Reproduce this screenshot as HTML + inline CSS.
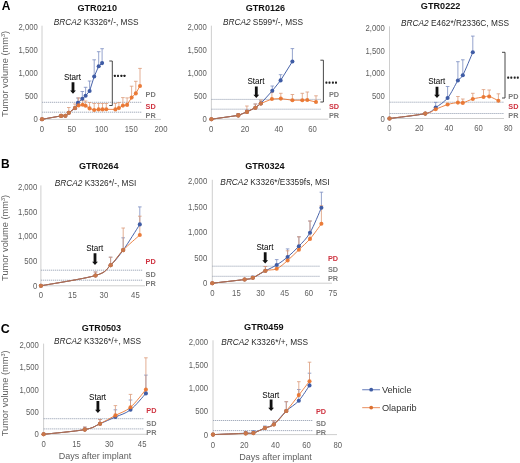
<!DOCTYPE html>
<html><head><meta charset="utf-8"><style>
html,body{margin:0;padding:0;background:#fff;}
svg{display:block;filter:blur(0.4px);}
text{font-family:"Liberation Sans",sans-serif;}
</style></head><body>
<svg width="520" height="463" viewBox="0 0 520 463" font-family="Liberation Sans, sans-serif">
<rect width="520" height="463" fill="#fff"/>
<line x1="42.00" y1="25.70" x2="42.00" y2="119.40" stroke="#c8c8c8" stroke-width="0.9" />
<line x1="42.00" y1="119.40" x2="161.00" y2="119.40" stroke="#c8c8c8" stroke-width="0.9" />
<text transform="translate(37.80,122.44) scale(0.91,1)" font-size="8.5" text-anchor="end" font-weight="normal" fill="#5e5e5e" >0</text>
<text transform="translate(37.80,99.39) scale(0.91,1)" font-size="8.5" text-anchor="end" font-weight="normal" fill="#5e5e5e" >500</text>
<text transform="translate(37.80,76.34) scale(0.91,1)" font-size="8.5" text-anchor="end" font-weight="normal" fill="#5e5e5e" >1,000</text>
<text transform="translate(37.80,53.29) scale(0.91,1)" font-size="8.5" text-anchor="end" font-weight="normal" fill="#5e5e5e" >1,500</text>
<text transform="translate(37.80,30.24) scale(0.91,1)" font-size="8.5" text-anchor="end" font-weight="normal" fill="#5e5e5e" >2,000</text>
<text transform="translate(42.00,132.24) scale(0.91,1)" font-size="8.5" text-anchor="middle" font-weight="normal" fill="#5e5e5e" >0</text>
<text transform="translate(71.75,132.24) scale(0.91,1)" font-size="8.5" text-anchor="middle" font-weight="normal" fill="#5e5e5e" >50</text>
<text transform="translate(101.50,132.24) scale(0.91,1)" font-size="8.5" text-anchor="middle" font-weight="normal" fill="#5e5e5e" >100</text>
<text transform="translate(131.25,132.24) scale(0.91,1)" font-size="8.5" text-anchor="middle" font-weight="normal" fill="#5e5e5e" >150</text>
<text transform="translate(161.00,132.24) scale(0.91,1)" font-size="8.5" text-anchor="middle" font-weight="normal" fill="#5e5e5e" >200</text>
<line x1="42.00" y1="102.30" x2="142.00" y2="102.30" stroke="#8f99ad" stroke-width="0.8" stroke-dasharray="1.3,0.7"/>
<line x1="42.00" y1="112.20" x2="142.00" y2="112.20" stroke="#8f99ad" stroke-width="0.8" stroke-dasharray="1.3,0.7"/>
<text x="145.60" y="96.61" font-size="7.3" text-anchor="start" font-weight="bold" fill="#7a7a7a" >PD</text>
<text x="145.60" y="108.81" font-size="7.3" text-anchor="start" font-weight="bold" fill="#cf3340" >SD</text>
<text x="145.60" y="117.91" font-size="7.3" text-anchor="start" font-weight="bold" fill="#7a7a7a" >PR</text>
<text transform="translate(97.20,11.34) scale(0.95,1)" font-size="9.6" text-anchor="middle" font-weight="bold" fill="#111" >GTR0210</text>
<text x="96.10" y="24.57" font-size="8.3" text-anchor="middle" fill="#2a2a2a"><tspan font-style="italic">BRCA2</tspan> K3326*/-, MSS</text>
<text transform="translate(72.50,80.08) scale(0.94,1)" font-size="8.6" text-anchor="middle" font-weight="normal" fill="#000" >Start</text>
<path d="M71.60,82.20 h2.8 v8.40 h1.5 l-2.9,3.2 l-2.9,-3.2 h1.5 z" fill="#111"/>
<path d="M109.30,61.00 H112.30 V105.50 H109.30" fill="none" stroke="#333" stroke-width="0.9"/>
<rect x="113.90" y="74.70" width="2.0" height="2.2" rx="0.6" fill="#222"/>
<rect x="117.00" y="74.70" width="2.0" height="2.2" rx="0.6" fill="#222"/>
<rect x="120.40" y="74.70" width="2.0" height="2.2" rx="0.6" fill="#222"/>
<rect x="123.50" y="74.70" width="2.0" height="2.2" rx="0.6" fill="#222"/>
<line x1="77.90" y1="102.70" x2="77.90" y2="98.00" stroke="#7b8dc0" stroke-width="0.8" />
<line x1="76.10" y1="98.00" x2="79.70" y2="98.00" stroke="#7b8dc0" stroke-width="0.8" />
<line x1="82.30" y1="98.80" x2="82.30" y2="91.50" stroke="#7b8dc0" stroke-width="0.8" />
<line x1="80.50" y1="91.50" x2="84.10" y2="91.50" stroke="#7b8dc0" stroke-width="0.8" />
<line x1="85.60" y1="95.80" x2="85.60" y2="87.30" stroke="#7b8dc0" stroke-width="0.8" />
<line x1="83.80" y1="87.30" x2="87.40" y2="87.30" stroke="#7b8dc0" stroke-width="0.8" />
<line x1="89.60" y1="91.00" x2="89.60" y2="81.00" stroke="#7b8dc0" stroke-width="0.8" />
<line x1="87.80" y1="81.00" x2="91.40" y2="81.00" stroke="#7b8dc0" stroke-width="0.8" />
<line x1="94.20" y1="76.50" x2="94.20" y2="59.80" stroke="#7b8dc0" stroke-width="0.8" />
<line x1="92.40" y1="59.80" x2="96.00" y2="59.80" stroke="#7b8dc0" stroke-width="0.8" />
<line x1="98.70" y1="66.20" x2="98.70" y2="51.70" stroke="#7b8dc0" stroke-width="0.8" />
<line x1="96.90" y1="51.70" x2="100.50" y2="51.70" stroke="#7b8dc0" stroke-width="0.8" />
<line x1="102.10" y1="63.10" x2="102.10" y2="48.70" stroke="#7b8dc0" stroke-width="0.8" />
<line x1="100.30" y1="48.70" x2="103.90" y2="48.70" stroke="#7b8dc0" stroke-width="0.8" />
<line x1="68.80" y1="112.80" x2="68.80" y2="107.50" stroke="#dc9a78" stroke-width="0.8" />
<line x1="67.00" y1="107.50" x2="70.60" y2="107.50" stroke="#dc9a78" stroke-width="0.8" />
<line x1="75.00" y1="108.00" x2="75.00" y2="104.00" stroke="#dc9a78" stroke-width="0.8" />
<line x1="73.20" y1="104.00" x2="76.80" y2="104.00" stroke="#dc9a78" stroke-width="0.8" />
<line x1="78.60" y1="105.40" x2="78.60" y2="97.90" stroke="#dc9a78" stroke-width="0.8" />
<line x1="76.80" y1="97.90" x2="80.40" y2="97.90" stroke="#dc9a78" stroke-width="0.8" />
<line x1="82.70" y1="104.80" x2="82.70" y2="100.00" stroke="#dc9a78" stroke-width="0.8" />
<line x1="80.90" y1="100.00" x2="84.50" y2="100.00" stroke="#dc9a78" stroke-width="0.8" />
<line x1="85.60" y1="105.80" x2="85.60" y2="101.00" stroke="#dc9a78" stroke-width="0.8" />
<line x1="83.80" y1="101.00" x2="87.40" y2="101.00" stroke="#dc9a78" stroke-width="0.8" />
<line x1="89.60" y1="108.40" x2="89.60" y2="102.50" stroke="#dc9a78" stroke-width="0.8" />
<line x1="87.80" y1="102.50" x2="91.40" y2="102.50" stroke="#dc9a78" stroke-width="0.8" />
<line x1="94.20" y1="110.00" x2="94.20" y2="103.50" stroke="#dc9a78" stroke-width="0.8" />
<line x1="92.40" y1="103.50" x2="96.00" y2="103.50" stroke="#dc9a78" stroke-width="0.8" />
<line x1="98.60" y1="109.40" x2="98.60" y2="103.50" stroke="#dc9a78" stroke-width="0.8" />
<line x1="96.80" y1="103.50" x2="100.40" y2="103.50" stroke="#dc9a78" stroke-width="0.8" />
<line x1="102.50" y1="109.40" x2="102.50" y2="103.50" stroke="#dc9a78" stroke-width="0.8" />
<line x1="100.70" y1="103.50" x2="104.30" y2="103.50" stroke="#dc9a78" stroke-width="0.8" />
<line x1="106.30" y1="109.30" x2="106.30" y2="103.50" stroke="#dc9a78" stroke-width="0.8" />
<line x1="104.50" y1="103.50" x2="108.10" y2="103.50" stroke="#dc9a78" stroke-width="0.8" />
<line x1="115.40" y1="109.40" x2="115.40" y2="103.50" stroke="#dc9a78" stroke-width="0.8" />
<line x1="113.60" y1="103.50" x2="117.20" y2="103.50" stroke="#dc9a78" stroke-width="0.8" />
<line x1="118.90" y1="108.10" x2="118.90" y2="102.50" stroke="#dc9a78" stroke-width="0.8" />
<line x1="117.10" y1="102.50" x2="120.70" y2="102.50" stroke="#dc9a78" stroke-width="0.8" />
<line x1="122.90" y1="105.60" x2="122.90" y2="97.60" stroke="#dc9a78" stroke-width="0.8" />
<line x1="121.10" y1="97.60" x2="124.70" y2="97.60" stroke="#dc9a78" stroke-width="0.8" />
<line x1="127.10" y1="104.90" x2="127.10" y2="97.90" stroke="#dc9a78" stroke-width="0.8" />
<line x1="125.30" y1="97.90" x2="128.90" y2="97.90" stroke="#dc9a78" stroke-width="0.8" />
<line x1="131.60" y1="97.60" x2="131.60" y2="86.20" stroke="#dc9a78" stroke-width="0.8" />
<line x1="129.80" y1="86.20" x2="133.40" y2="86.20" stroke="#dc9a78" stroke-width="0.8" />
<line x1="135.80" y1="93.40" x2="135.80" y2="81.30" stroke="#dc9a78" stroke-width="0.8" />
<line x1="134.00" y1="81.30" x2="137.60" y2="81.30" stroke="#dc9a78" stroke-width="0.8" />
<line x1="140.00" y1="86.00" x2="140.00" y2="68.40" stroke="#dc9a78" stroke-width="0.8" />
<line x1="138.20" y1="68.40" x2="141.80" y2="68.40" stroke="#dc9a78" stroke-width="0.8" />
<path d="M42.00,119.30 L61.10,115.90 L65.40,115.70 L68.80,112.80 L75.00,108.20 L77.90,102.70 L82.30,98.80 L85.60,95.80 L89.60,91.00 L94.20,76.50 L98.70,66.20 L102.10,63.10" fill="none" stroke="#3f5ca5" stroke-width="0.95"/>
<circle cx="42.00" cy="119.30" r="2.05" fill="#3f5ca5"/>
<circle cx="61.10" cy="115.90" r="2.05" fill="#3f5ca5"/>
<circle cx="65.40" cy="115.70" r="2.05" fill="#3f5ca5"/>
<circle cx="68.80" cy="112.80" r="2.05" fill="#3f5ca5"/>
<circle cx="75.00" cy="108.20" r="2.05" fill="#3f5ca5"/>
<circle cx="77.90" cy="102.70" r="2.05" fill="#3f5ca5"/>
<circle cx="82.30" cy="98.80" r="2.05" fill="#3f5ca5"/>
<circle cx="85.60" cy="95.80" r="2.05" fill="#3f5ca5"/>
<circle cx="89.60" cy="91.00" r="2.05" fill="#3f5ca5"/>
<circle cx="94.20" cy="76.50" r="2.05" fill="#3f5ca5"/>
<circle cx="98.70" cy="66.20" r="2.05" fill="#3f5ca5"/>
<circle cx="102.10" cy="63.10" r="2.05" fill="#3f5ca5"/>
<path d="M42.00,119.30 L61.10,115.90 L65.40,115.70 L68.80,112.80 L75.00,108.00 L78.60,105.40 L82.70,104.80 L85.60,105.80 L89.60,108.40 L94.20,110.00 L98.60,109.40 L102.50,109.40 L106.30,109.30 L115.40,109.40 L118.90,108.10 L122.90,105.60 L127.10,104.90 L131.60,97.60 L135.80,93.40 L140.00,86.00" fill="none" stroke="#e9742e" stroke-width="0.95" opacity="0.92"/>
<circle cx="42.00" cy="119.30" r="2.05" fill="#e9742e" opacity="0.92"/>
<circle cx="61.10" cy="115.90" r="2.05" fill="#e9742e" opacity="0.92"/>
<circle cx="65.40" cy="115.70" r="2.05" fill="#e9742e" opacity="0.92"/>
<circle cx="68.80" cy="112.80" r="2.05" fill="#e9742e" opacity="0.92"/>
<circle cx="75.00" cy="108.00" r="2.05" fill="#e9742e" opacity="0.92"/>
<circle cx="78.60" cy="105.40" r="2.05" fill="#e9742e" opacity="0.92"/>
<circle cx="82.70" cy="104.80" r="2.05" fill="#e9742e" opacity="0.92"/>
<circle cx="85.60" cy="105.80" r="2.05" fill="#e9742e" opacity="0.92"/>
<circle cx="89.60" cy="108.40" r="2.05" fill="#e9742e" opacity="0.92"/>
<circle cx="94.20" cy="110.00" r="2.05" fill="#e9742e" opacity="0.92"/>
<circle cx="98.60" cy="109.40" r="2.05" fill="#e9742e" opacity="0.92"/>
<circle cx="102.50" cy="109.40" r="2.05" fill="#e9742e" opacity="0.92"/>
<circle cx="106.30" cy="109.30" r="2.05" fill="#e9742e" opacity="0.92"/>
<circle cx="115.40" cy="109.40" r="2.05" fill="#e9742e" opacity="0.92"/>
<circle cx="118.90" cy="108.10" r="2.05" fill="#e9742e" opacity="0.92"/>
<circle cx="122.90" cy="105.60" r="2.05" fill="#e9742e" opacity="0.92"/>
<circle cx="127.10" cy="104.90" r="2.05" fill="#e9742e" opacity="0.92"/>
<circle cx="131.60" cy="97.60" r="2.05" fill="#e9742e" opacity="0.92"/>
<circle cx="135.80" cy="93.40" r="2.05" fill="#e9742e" opacity="0.92"/>
<circle cx="140.00" cy="86.00" r="2.05" fill="#e9742e" opacity="0.92"/>
<path d="M42.00,119.30 L61.10,115.90 L65.40,115.70 L68.80,112.80 L75.00,108.00" fill="none" stroke="#a26d58" stroke-width="0.95"/>
<circle cx="42.00" cy="119.30" r="2.05" fill="#c9774a"/>
<circle cx="61.10" cy="115.90" r="2.05" fill="#c9774a"/>
<circle cx="65.40" cy="115.70" r="2.05" fill="#c9774a"/>
<circle cx="68.80" cy="112.80" r="2.05" fill="#c9774a"/>
<circle cx="75.00" cy="108.00" r="2.05" fill="#c9774a"/>
<line x1="211.40" y1="25.70" x2="211.40" y2="119.20" stroke="#c8c8c8" stroke-width="0.9" />
<line x1="211.40" y1="119.20" x2="328.40" y2="119.20" stroke="#c8c8c8" stroke-width="0.9" />
<text transform="translate(206.90,122.24) scale(0.91,1)" font-size="8.5" text-anchor="end" font-weight="normal" fill="#5e5e5e" >0</text>
<text transform="translate(206.90,99.24) scale(0.91,1)" font-size="8.5" text-anchor="end" font-weight="normal" fill="#5e5e5e" >500</text>
<text transform="translate(206.90,76.24) scale(0.91,1)" font-size="8.5" text-anchor="end" font-weight="normal" fill="#5e5e5e" >1,000</text>
<text transform="translate(206.90,53.24) scale(0.91,1)" font-size="8.5" text-anchor="end" font-weight="normal" fill="#5e5e5e" >1,500</text>
<text transform="translate(206.90,30.24) scale(0.91,1)" font-size="8.5" text-anchor="end" font-weight="normal" fill="#5e5e5e" >2,000</text>
<text transform="translate(211.20,132.44) scale(0.91,1)" font-size="8.5" text-anchor="middle" font-weight="normal" fill="#5e5e5e" >0</text>
<text transform="translate(245.00,132.44) scale(0.91,1)" font-size="8.5" text-anchor="middle" font-weight="normal" fill="#5e5e5e" >20</text>
<text transform="translate(278.80,132.44) scale(0.91,1)" font-size="8.5" text-anchor="middle" font-weight="normal" fill="#5e5e5e" >40</text>
<text transform="translate(312.60,132.44) scale(0.91,1)" font-size="8.5" text-anchor="middle" font-weight="normal" fill="#5e5e5e" >60</text>
<line x1="211.40" y1="99.40" x2="321.00" y2="99.40" stroke="#8f99ad" stroke-width="0.8" stroke-dasharray="1.3,0.7"/>
<line x1="211.40" y1="109.20" x2="321.00" y2="109.20" stroke="#8f99ad" stroke-width="0.8" stroke-dasharray="1.3,0.7"/>
<text x="328.90" y="96.61" font-size="7.3" text-anchor="start" font-weight="bold" fill="#7a7a7a" >PD</text>
<text x="328.90" y="109.11" font-size="7.3" text-anchor="start" font-weight="bold" fill="#cf3340" >SD</text>
<text x="328.90" y="117.81" font-size="7.3" text-anchor="start" font-weight="bold" fill="#7a7a7a" >PR</text>
<text transform="translate(265.40,10.64) scale(0.95,1)" font-size="9.6" text-anchor="middle" font-weight="bold" fill="#111" >GTR0126</text>
<text x="263.00" y="24.77" font-size="8.3" text-anchor="middle" fill="#2a2a2a"><tspan font-style="italic">BRCA2</tspan> S599*/-, MSS</text>
<text transform="translate(256.00,84.28) scale(0.94,1)" font-size="8.6" text-anchor="middle" font-weight="normal" fill="#000" >Start</text>
<path d="M254.90,86.50 h2.8 v8.30 h1.5 l-2.9,3.2 l-2.9,-3.2 h1.5 z" fill="#111"/>
<path d="M320.40,60.20 H323.40 V102.00 H320.40" fill="none" stroke="#333" stroke-width="0.9"/>
<rect x="325.40" y="81.50" width="2.0" height="2.2" rx="0.6" fill="#222"/>
<rect x="328.50" y="81.50" width="2.0" height="2.2" rx="0.6" fill="#222"/>
<rect x="331.90" y="81.50" width="2.0" height="2.2" rx="0.6" fill="#222"/>
<rect x="335.00" y="81.50" width="2.0" height="2.2" rx="0.6" fill="#222"/>
<line x1="238.30" y1="115.40" x2="238.30" y2="113.50" stroke="#7b8dc0" stroke-width="0.8" />
<line x1="236.50" y1="113.50" x2="240.10" y2="113.50" stroke="#7b8dc0" stroke-width="0.8" />
<line x1="246.90" y1="111.90" x2="246.90" y2="110.00" stroke="#7b8dc0" stroke-width="0.8" />
<line x1="245.10" y1="110.00" x2="248.70" y2="110.00" stroke="#7b8dc0" stroke-width="0.8" />
<line x1="255.40" y1="107.70" x2="255.40" y2="104.00" stroke="#7b8dc0" stroke-width="0.8" />
<line x1="253.60" y1="104.00" x2="257.20" y2="104.00" stroke="#7b8dc0" stroke-width="0.8" />
<line x1="260.80" y1="103.50" x2="260.80" y2="101.00" stroke="#7b8dc0" stroke-width="0.8" />
<line x1="259.00" y1="101.00" x2="262.60" y2="101.00" stroke="#7b8dc0" stroke-width="0.8" />
<line x1="272.30" y1="90.80" x2="272.30" y2="86.00" stroke="#7b8dc0" stroke-width="0.8" />
<line x1="270.50" y1="86.00" x2="274.10" y2="86.00" stroke="#7b8dc0" stroke-width="0.8" />
<line x1="280.60" y1="80.40" x2="280.60" y2="74.70" stroke="#7b8dc0" stroke-width="0.8" />
<line x1="278.80" y1="74.70" x2="282.40" y2="74.70" stroke="#7b8dc0" stroke-width="0.8" />
<line x1="292.40" y1="61.50" x2="292.40" y2="48.60" stroke="#7b8dc0" stroke-width="0.8" />
<line x1="290.60" y1="48.60" x2="294.20" y2="48.60" stroke="#7b8dc0" stroke-width="0.8" />
<line x1="238.30" y1="115.40" x2="238.30" y2="113.50" stroke="#dc9a78" stroke-width="0.8" />
<line x1="236.50" y1="113.50" x2="240.10" y2="113.50" stroke="#dc9a78" stroke-width="0.8" />
<line x1="246.90" y1="111.90" x2="246.90" y2="106.00" stroke="#dc9a78" stroke-width="0.8" />
<line x1="245.10" y1="106.00" x2="248.70" y2="106.00" stroke="#dc9a78" stroke-width="0.8" />
<line x1="255.40" y1="107.70" x2="255.40" y2="104.00" stroke="#dc9a78" stroke-width="0.8" />
<line x1="253.60" y1="104.00" x2="257.20" y2="104.00" stroke="#dc9a78" stroke-width="0.8" />
<line x1="260.80" y1="103.50" x2="260.80" y2="100.00" stroke="#dc9a78" stroke-width="0.8" />
<line x1="259.00" y1="100.00" x2="262.60" y2="100.00" stroke="#dc9a78" stroke-width="0.8" />
<line x1="271.90" y1="99.00" x2="271.90" y2="92.50" stroke="#dc9a78" stroke-width="0.8" />
<line x1="270.10" y1="92.50" x2="273.70" y2="92.50" stroke="#dc9a78" stroke-width="0.8" />
<line x1="280.80" y1="98.60" x2="280.80" y2="93.30" stroke="#dc9a78" stroke-width="0.8" />
<line x1="279.00" y1="93.30" x2="282.60" y2="93.30" stroke="#dc9a78" stroke-width="0.8" />
<line x1="292.40" y1="100.20" x2="292.40" y2="94.50" stroke="#dc9a78" stroke-width="0.8" />
<line x1="290.60" y1="94.50" x2="294.20" y2="94.50" stroke="#dc9a78" stroke-width="0.8" />
<line x1="302.30" y1="100.20" x2="302.30" y2="93.30" stroke="#dc9a78" stroke-width="0.8" />
<line x1="300.50" y1="93.30" x2="304.10" y2="93.30" stroke="#dc9a78" stroke-width="0.8" />
<line x1="307.30" y1="100.00" x2="307.30" y2="92.00" stroke="#dc9a78" stroke-width="0.8" />
<line x1="305.50" y1="92.00" x2="309.10" y2="92.00" stroke="#dc9a78" stroke-width="0.8" />
<line x1="316.00" y1="102.00" x2="316.00" y2="95.80" stroke="#dc9a78" stroke-width="0.8" />
<line x1="314.20" y1="95.80" x2="317.80" y2="95.80" stroke="#dc9a78" stroke-width="0.8" />
<path d="M211.40,119.20 L238.30,115.40 L246.90,111.90 L255.40,107.70 L260.80,103.50 L272.30,90.80 L280.60,80.40 L292.40,61.50" fill="none" stroke="#3f5ca5" stroke-width="0.95"/>
<circle cx="211.40" cy="119.20" r="2.05" fill="#3f5ca5"/>
<circle cx="238.30" cy="115.40" r="2.05" fill="#3f5ca5"/>
<circle cx="246.90" cy="111.90" r="2.05" fill="#3f5ca5"/>
<circle cx="255.40" cy="107.70" r="2.05" fill="#3f5ca5"/>
<circle cx="260.80" cy="103.50" r="2.05" fill="#3f5ca5"/>
<circle cx="272.30" cy="90.80" r="2.05" fill="#3f5ca5"/>
<circle cx="280.60" cy="80.40" r="2.05" fill="#3f5ca5"/>
<circle cx="292.40" cy="61.50" r="2.05" fill="#3f5ca5"/>
<path d="M211.40,119.20 L238.30,115.40 L246.90,111.90 L255.40,107.70 L260.80,103.50 L271.90,99.00 L280.80,98.60 L292.40,100.20 L302.30,100.20 L307.30,100.00 L316.00,102.00" fill="none" stroke="#e9742e" stroke-width="0.95" opacity="0.92"/>
<circle cx="211.40" cy="119.20" r="2.05" fill="#e9742e" opacity="0.92"/>
<circle cx="238.30" cy="115.40" r="2.05" fill="#e9742e" opacity="0.92"/>
<circle cx="246.90" cy="111.90" r="2.05" fill="#e9742e" opacity="0.92"/>
<circle cx="255.40" cy="107.70" r="2.05" fill="#e9742e" opacity="0.92"/>
<circle cx="260.80" cy="103.50" r="2.05" fill="#e9742e" opacity="0.92"/>
<circle cx="271.90" cy="99.00" r="2.05" fill="#e9742e" opacity="0.92"/>
<circle cx="280.80" cy="98.60" r="2.05" fill="#e9742e" opacity="0.92"/>
<circle cx="292.40" cy="100.20" r="2.05" fill="#e9742e" opacity="0.92"/>
<circle cx="302.30" cy="100.20" r="2.05" fill="#e9742e" opacity="0.92"/>
<circle cx="307.30" cy="100.00" r="2.05" fill="#e9742e" opacity="0.92"/>
<circle cx="316.00" cy="102.00" r="2.05" fill="#e9742e" opacity="0.92"/>
<path d="M211.40,119.20 L238.30,115.40 L246.90,111.90 L255.40,107.70 L260.80,103.50" fill="none" stroke="#a26d58" stroke-width="0.95"/>
<circle cx="211.40" cy="119.20" r="2.05" fill="#c9774a"/>
<circle cx="238.30" cy="115.40" r="2.05" fill="#c9774a"/>
<circle cx="246.90" cy="111.90" r="2.05" fill="#c9774a"/>
<circle cx="255.40" cy="107.70" r="2.05" fill="#c9774a"/>
<circle cx="260.80" cy="103.50" r="2.05" fill="#c9774a"/>
<line x1="389.50" y1="26.30" x2="389.50" y2="118.50" stroke="#c8c8c8" stroke-width="0.9" />
<line x1="389.50" y1="118.50" x2="504.00" y2="118.50" stroke="#c8c8c8" stroke-width="0.9" />
<text transform="translate(384.90,121.54) scale(0.91,1)" font-size="8.5" text-anchor="end" font-weight="normal" fill="#5e5e5e" >0</text>
<text transform="translate(384.90,98.87) scale(0.91,1)" font-size="8.5" text-anchor="end" font-weight="normal" fill="#5e5e5e" >500</text>
<text transform="translate(384.90,76.19) scale(0.91,1)" font-size="8.5" text-anchor="end" font-weight="normal" fill="#5e5e5e" >1,000</text>
<text transform="translate(384.90,53.52) scale(0.91,1)" font-size="8.5" text-anchor="end" font-weight="normal" fill="#5e5e5e" >1,500</text>
<text transform="translate(384.90,30.84) scale(0.91,1)" font-size="8.5" text-anchor="end" font-weight="normal" fill="#5e5e5e" >2,000</text>
<text transform="translate(389.50,131.34) scale(0.91,1)" font-size="8.5" text-anchor="middle" font-weight="normal" fill="#5e5e5e" >0</text>
<text transform="translate(419.20,131.34) scale(0.91,1)" font-size="8.5" text-anchor="middle" font-weight="normal" fill="#5e5e5e" >20</text>
<text transform="translate(448.90,131.34) scale(0.91,1)" font-size="8.5" text-anchor="middle" font-weight="normal" fill="#5e5e5e" >40</text>
<text transform="translate(478.60,131.34) scale(0.91,1)" font-size="8.5" text-anchor="middle" font-weight="normal" fill="#5e5e5e" >60</text>
<text transform="translate(508.30,131.34) scale(0.91,1)" font-size="8.5" text-anchor="middle" font-weight="normal" fill="#5e5e5e" >80</text>
<line x1="389.50" y1="102.20" x2="504.00" y2="102.20" stroke="#8f99ad" stroke-width="0.8" stroke-dasharray="1.3,0.7"/>
<line x1="389.50" y1="113.50" x2="504.00" y2="113.50" stroke="#8f99ad" stroke-width="0.8" stroke-dasharray="1.3,0.7"/>
<text x="508.30" y="98.91" font-size="7.3" text-anchor="start" font-weight="bold" fill="#7a7a7a" >PD</text>
<text x="508.30" y="108.81" font-size="7.3" text-anchor="start" font-weight="bold" fill="#cf3340" >SD</text>
<text x="508.30" y="118.31" font-size="7.3" text-anchor="start" font-weight="bold" fill="#7a7a7a" >PR</text>
<text transform="translate(440.60,9.24) scale(0.95,1)" font-size="9.6" text-anchor="middle" font-weight="bold" fill="#111" >GTR0222</text>
<text x="455.00" y="25.87" font-size="8.3" text-anchor="middle" fill="#2a2a2a"><tspan font-style="italic">BRCA2</tspan> E462*/R2336C, MSS</text>
<text transform="translate(436.70,83.88) scale(0.94,1)" font-size="8.6" text-anchor="middle" font-weight="normal" fill="#000" >Start</text>
<path d="M435.60,86.70 h2.8 v8.10 h1.5 l-2.9,3.2 l-2.9,-3.2 h1.5 z" fill="#111"/>
<path d="M502.00,52.30 H505.00 V98.00 H502.00" fill="none" stroke="#333" stroke-width="0.9"/>
<rect x="507.20" y="76.50" width="2.0" height="2.2" rx="0.6" fill="#222"/>
<rect x="510.30" y="76.50" width="2.0" height="2.2" rx="0.6" fill="#222"/>
<rect x="513.70" y="76.50" width="2.0" height="2.2" rx="0.6" fill="#222"/>
<rect x="516.80" y="76.50" width="2.0" height="2.2" rx="0.6" fill="#222"/>
<line x1="435.70" y1="107.50" x2="435.70" y2="102.40" stroke="#7b8dc0" stroke-width="0.8" />
<line x1="433.90" y1="102.40" x2="437.50" y2="102.40" stroke="#7b8dc0" stroke-width="0.8" />
<line x1="447.60" y1="98.00" x2="447.60" y2="86.50" stroke="#7b8dc0" stroke-width="0.8" />
<line x1="445.80" y1="86.50" x2="449.40" y2="86.50" stroke="#7b8dc0" stroke-width="0.8" />
<line x1="457.90" y1="80.50" x2="457.90" y2="61.70" stroke="#7b8dc0" stroke-width="0.8" />
<line x1="456.10" y1="61.70" x2="459.70" y2="61.70" stroke="#7b8dc0" stroke-width="0.8" />
<line x1="462.80" y1="75.20" x2="462.80" y2="59.80" stroke="#7b8dc0" stroke-width="0.8" />
<line x1="461.00" y1="59.80" x2="464.60" y2="59.80" stroke="#7b8dc0" stroke-width="0.8" />
<line x1="472.80" y1="52.30" x2="472.80" y2="36.10" stroke="#7b8dc0" stroke-width="0.8" />
<line x1="471.00" y1="36.10" x2="474.60" y2="36.10" stroke="#7b8dc0" stroke-width="0.8" />
<line x1="457.90" y1="102.60" x2="457.90" y2="96.50" stroke="#dc9a78" stroke-width="0.8" />
<line x1="456.10" y1="96.50" x2="459.70" y2="96.50" stroke="#dc9a78" stroke-width="0.8" />
<line x1="462.80" y1="102.90" x2="462.80" y2="99.00" stroke="#dc9a78" stroke-width="0.8" />
<line x1="461.00" y1="99.00" x2="464.60" y2="99.00" stroke="#dc9a78" stroke-width="0.8" />
<line x1="472.80" y1="99.00" x2="472.80" y2="93.30" stroke="#dc9a78" stroke-width="0.8" />
<line x1="471.00" y1="93.30" x2="474.60" y2="93.30" stroke="#dc9a78" stroke-width="0.8" />
<line x1="483.50" y1="97.00" x2="483.50" y2="89.60" stroke="#dc9a78" stroke-width="0.8" />
<line x1="481.70" y1="89.60" x2="485.30" y2="89.60" stroke="#dc9a78" stroke-width="0.8" />
<line x1="489.20" y1="96.50" x2="489.20" y2="90.00" stroke="#dc9a78" stroke-width="0.8" />
<line x1="487.40" y1="90.00" x2="491.00" y2="90.00" stroke="#dc9a78" stroke-width="0.8" />
<line x1="498.40" y1="100.70" x2="498.40" y2="93.80" stroke="#dc9a78" stroke-width="0.8" />
<line x1="496.60" y1="93.80" x2="500.20" y2="93.80" stroke="#dc9a78" stroke-width="0.8" />
<path d="M389.50,118.50 C395.47,117.68 417.60,115.43 425.30,113.60 C433.00,111.77 431.98,110.10 435.70,107.50 C439.42,104.90 443.90,102.50 447.60,98.00 C451.30,93.50 455.37,84.30 457.90,80.50 C460.43,76.70 460.32,79.90 462.80,75.20 C465.28,70.50 471.13,56.12 472.80,52.30" fill="none" stroke="#3f5ca5" stroke-width="0.95"/>
<circle cx="389.50" cy="118.50" r="2.05" fill="#3f5ca5"/>
<circle cx="425.30" cy="113.60" r="2.05" fill="#3f5ca5"/>
<circle cx="435.70" cy="107.50" r="2.05" fill="#3f5ca5"/>
<circle cx="447.60" cy="98.00" r="2.05" fill="#3f5ca5"/>
<circle cx="457.90" cy="80.50" r="2.05" fill="#3f5ca5"/>
<circle cx="462.80" cy="75.20" r="2.05" fill="#3f5ca5"/>
<circle cx="472.80" cy="52.30" r="2.05" fill="#3f5ca5"/>
<path d="M389.50,118.50 C395.47,117.68 417.60,115.13 425.30,113.60 C433.00,112.07 431.98,110.82 435.70,109.30 C439.42,107.78 443.90,105.62 447.60,104.50 C451.30,103.38 455.37,102.87 457.90,102.60 C460.43,102.33 460.32,103.50 462.80,102.90 C465.28,102.30 469.35,99.98 472.80,99.00 C476.25,98.02 480.77,97.42 483.50,97.00 C486.23,96.58 486.72,95.88 489.20,96.50 C491.68,97.12 496.87,100.00 498.40,100.70" fill="none" stroke="#e9742e" stroke-width="0.95" opacity="0.92"/>
<circle cx="389.50" cy="118.50" r="2.05" fill="#e9742e" opacity="0.92"/>
<circle cx="425.30" cy="113.60" r="2.05" fill="#e9742e" opacity="0.92"/>
<circle cx="435.70" cy="109.30" r="2.05" fill="#e9742e" opacity="0.92"/>
<circle cx="447.60" cy="104.50" r="2.05" fill="#e9742e" opacity="0.92"/>
<circle cx="457.90" cy="102.60" r="2.05" fill="#e9742e" opacity="0.92"/>
<circle cx="462.80" cy="102.90" r="2.05" fill="#e9742e" opacity="0.92"/>
<circle cx="472.80" cy="99.00" r="2.05" fill="#e9742e" opacity="0.92"/>
<circle cx="483.50" cy="97.00" r="2.05" fill="#e9742e" opacity="0.92"/>
<circle cx="489.20" cy="96.50" r="2.05" fill="#e9742e" opacity="0.92"/>
<circle cx="498.40" cy="100.70" r="2.05" fill="#e9742e" opacity="0.92"/>
<path d="M389.50,118.50 C395.47,117.68 417.60,115.13 425.30,113.60" fill="none" stroke="#a26d58" stroke-width="0.95"/>
<circle cx="389.50" cy="118.50" r="2.05" fill="#c9774a"/>
<circle cx="425.30" cy="113.60" r="2.05" fill="#c9774a"/>
<line x1="40.90" y1="185.40" x2="40.90" y2="285.80" stroke="#c8c8c8" stroke-width="0.9" />
<line x1="40.90" y1="285.80" x2="145.00" y2="285.80" stroke="#c8c8c8" stroke-width="0.9" />
<text transform="translate(37.20,288.84) scale(0.91,1)" font-size="8.5" text-anchor="end" font-weight="normal" fill="#5e5e5e" >0</text>
<text transform="translate(37.20,264.12) scale(0.91,1)" font-size="8.5" text-anchor="end" font-weight="normal" fill="#5e5e5e" >500</text>
<text transform="translate(37.20,239.39) scale(0.91,1)" font-size="8.5" text-anchor="end" font-weight="normal" fill="#5e5e5e" >1,000</text>
<text transform="translate(37.20,214.67) scale(0.91,1)" font-size="8.5" text-anchor="end" font-weight="normal" fill="#5e5e5e" >1,500</text>
<text transform="translate(37.20,189.94) scale(0.91,1)" font-size="8.5" text-anchor="end" font-weight="normal" fill="#5e5e5e" >2,000</text>
<text transform="translate(40.90,298.24) scale(0.91,1)" font-size="8.5" text-anchor="middle" font-weight="normal" fill="#5e5e5e" >0</text>
<text transform="translate(72.40,298.24) scale(0.91,1)" font-size="8.5" text-anchor="middle" font-weight="normal" fill="#5e5e5e" >15</text>
<text transform="translate(103.90,298.24) scale(0.91,1)" font-size="8.5" text-anchor="middle" font-weight="normal" fill="#5e5e5e" >30</text>
<text transform="translate(135.40,298.24) scale(0.91,1)" font-size="8.5" text-anchor="middle" font-weight="normal" fill="#5e5e5e" >45</text>
<line x1="40.90" y1="270.20" x2="142.60" y2="270.20" stroke="#8f99ad" stroke-width="0.8" stroke-dasharray="1.3,0.7"/>
<line x1="40.90" y1="280.20" x2="142.60" y2="280.20" stroke="#8f99ad" stroke-width="0.8" stroke-dasharray="1.3,0.7"/>
<text x="145.60" y="264.41" font-size="7.3" text-anchor="start" font-weight="bold" fill="#cf3340" >PD</text>
<text x="145.60" y="277.11" font-size="7.3" text-anchor="start" font-weight="bold" fill="#7a7a7a" >SD</text>
<text x="145.60" y="285.71" font-size="7.3" text-anchor="start" font-weight="bold" fill="#7a7a7a" >PR</text>
<text transform="translate(98.70,168.54) scale(0.95,1)" font-size="9.6" text-anchor="middle" font-weight="bold" fill="#111" >GTR0264</text>
<text x="95.50" y="185.87" font-size="8.3" text-anchor="middle" fill="#2a2a2a"><tspan font-style="italic">BRCA2</tspan> K3326*/-, MSI</text>
<text transform="translate(94.70,251.18) scale(0.94,1)" font-size="8.6" text-anchor="middle" font-weight="normal" fill="#000" >Start</text>
<path d="M93.60,253.30 h2.8 v8.50 h1.5 l-2.9,3.2 l-2.9,-3.2 h1.5 z" fill="#111"/>
<line x1="95.50" y1="275.50" x2="95.50" y2="272.00" stroke="#7b8dc0" stroke-width="0.8" />
<line x1="93.70" y1="272.00" x2="97.30" y2="272.00" stroke="#7b8dc0" stroke-width="0.8" />
<line x1="110.60" y1="265.20" x2="110.60" y2="257.20" stroke="#7b8dc0" stroke-width="0.8" />
<line x1="108.80" y1="257.20" x2="112.40" y2="257.20" stroke="#7b8dc0" stroke-width="0.8" />
<line x1="123.20" y1="250.10" x2="123.20" y2="237.80" stroke="#7b8dc0" stroke-width="0.8" />
<line x1="121.40" y1="237.80" x2="125.00" y2="237.80" stroke="#7b8dc0" stroke-width="0.8" />
<line x1="139.80" y1="224.40" x2="139.80" y2="206.90" stroke="#7b8dc0" stroke-width="0.8" />
<line x1="138.00" y1="206.90" x2="141.60" y2="206.90" stroke="#7b8dc0" stroke-width="0.8" />
<line x1="95.50" y1="275.50" x2="95.50" y2="272.00" stroke="#dc9a78" stroke-width="0.8" />
<line x1="93.70" y1="272.00" x2="97.30" y2="272.00" stroke="#dc9a78" stroke-width="0.8" />
<line x1="110.60" y1="265.20" x2="110.60" y2="257.20" stroke="#dc9a78" stroke-width="0.8" />
<line x1="108.80" y1="257.20" x2="112.40" y2="257.20" stroke="#dc9a78" stroke-width="0.8" />
<line x1="123.20" y1="250.10" x2="123.20" y2="228.00" stroke="#dc9a78" stroke-width="0.8" />
<line x1="121.40" y1="228.00" x2="125.00" y2="228.00" stroke="#dc9a78" stroke-width="0.8" />
<line x1="139.80" y1="235.00" x2="139.80" y2="216.20" stroke="#dc9a78" stroke-width="0.8" />
<line x1="138.00" y1="216.20" x2="141.60" y2="216.20" stroke="#dc9a78" stroke-width="0.8" />
<path d="M40.90,285.80 C50.00,284.08 83.88,278.93 95.50,275.50 C107.12,272.07 105.98,269.43 110.60,265.20 C115.22,260.97 118.33,256.90 123.20,250.10 C128.07,243.30 137.03,228.68 139.80,224.40" fill="none" stroke="#3f5ca5" stroke-width="0.95"/>
<circle cx="40.90" cy="285.80" r="2.05" fill="#3f5ca5"/>
<circle cx="95.50" cy="275.50" r="2.05" fill="#3f5ca5"/>
<circle cx="110.60" cy="265.20" r="2.05" fill="#3f5ca5"/>
<circle cx="123.20" cy="250.10" r="2.05" fill="#3f5ca5"/>
<circle cx="139.80" cy="224.40" r="2.05" fill="#3f5ca5"/>
<path d="M40.90,285.80 C50.00,284.08 83.88,278.93 95.50,275.50 C107.12,272.07 105.98,269.43 110.60,265.20 C115.22,260.97 118.33,255.13 123.20,250.10 C128.07,245.07 137.03,237.52 139.80,235.00" fill="none" stroke="#e9742e" stroke-width="0.95" opacity="0.92"/>
<circle cx="40.90" cy="285.80" r="2.05" fill="#e9742e" opacity="0.92"/>
<circle cx="95.50" cy="275.50" r="2.05" fill="#e9742e" opacity="0.92"/>
<circle cx="110.60" cy="265.20" r="2.05" fill="#e9742e" opacity="0.92"/>
<circle cx="123.20" cy="250.10" r="2.05" fill="#e9742e" opacity="0.92"/>
<circle cx="139.80" cy="235.00" r="2.05" fill="#e9742e" opacity="0.92"/>
<path d="M40.90,285.80 C50.00,284.08 83.88,278.93 95.50,275.50 C107.12,272.07 105.98,269.43 110.60,265.20 C115.22,260.97 118.33,255.13 123.20,250.10" fill="none" stroke="#a26d58" stroke-width="0.95"/>
<circle cx="40.90" cy="285.80" r="2.05" fill="#c9774a"/>
<circle cx="95.50" cy="275.50" r="2.05" fill="#c9774a"/>
<circle cx="110.60" cy="265.20" r="2.05" fill="#c9774a"/>
<circle cx="123.20" cy="250.10" r="2.05" fill="#c9774a"/>
<line x1="212.30" y1="179.80" x2="212.30" y2="283.20" stroke="#c8c8c8" stroke-width="0.9" />
<line x1="212.30" y1="283.20" x2="332.00" y2="283.20" stroke="#c8c8c8" stroke-width="0.9" />
<text transform="translate(207.20,286.24) scale(0.91,1)" font-size="8.5" text-anchor="end" font-weight="normal" fill="#5e5e5e" >0</text>
<text transform="translate(207.20,260.77) scale(0.91,1)" font-size="8.5" text-anchor="end" font-weight="normal" fill="#5e5e5e" >500</text>
<text transform="translate(207.20,235.29) scale(0.91,1)" font-size="8.5" text-anchor="end" font-weight="normal" fill="#5e5e5e" >1,000</text>
<text transform="translate(207.20,209.82) scale(0.91,1)" font-size="8.5" text-anchor="end" font-weight="normal" fill="#5e5e5e" >1,500</text>
<text transform="translate(207.20,184.34) scale(0.91,1)" font-size="8.5" text-anchor="end" font-weight="normal" fill="#5e5e5e" >2,000</text>
<text transform="translate(212.30,295.74) scale(0.91,1)" font-size="8.5" text-anchor="middle" font-weight="normal" fill="#5e5e5e" >0</text>
<text transform="translate(236.42,295.74) scale(0.91,1)" font-size="8.5" text-anchor="middle" font-weight="normal" fill="#5e5e5e" >15</text>
<text transform="translate(260.54,295.74) scale(0.91,1)" font-size="8.5" text-anchor="middle" font-weight="normal" fill="#5e5e5e" >30</text>
<text transform="translate(284.66,295.74) scale(0.91,1)" font-size="8.5" text-anchor="middle" font-weight="normal" fill="#5e5e5e" >45</text>
<text transform="translate(308.78,295.74) scale(0.91,1)" font-size="8.5" text-anchor="middle" font-weight="normal" fill="#5e5e5e" >60</text>
<text transform="translate(332.90,295.74) scale(0.91,1)" font-size="8.5" text-anchor="middle" font-weight="normal" fill="#5e5e5e" >75</text>
<line x1="212.30" y1="266.20" x2="320.00" y2="266.20" stroke="#8f99ad" stroke-width="0.8" stroke-dasharray="1.3,0.7"/>
<line x1="212.30" y1="276.30" x2="320.00" y2="276.30" stroke="#8f99ad" stroke-width="0.8" stroke-dasharray="1.3,0.7"/>
<text x="328.00" y="261.01" font-size="7.3" text-anchor="start" font-weight="bold" fill="#cf3340" >PD</text>
<text x="328.00" y="271.91" font-size="7.3" text-anchor="start" font-weight="bold" fill="#7a7a7a" >SD</text>
<text x="328.00" y="281.21" font-size="7.3" text-anchor="start" font-weight="bold" fill="#7a7a7a" >PR</text>
<text transform="translate(264.90,168.54) scale(0.95,1)" font-size="9.6" text-anchor="middle" font-weight="bold" fill="#111" >GTR0324</text>
<text x="275.00" y="185.17" font-size="8.3" text-anchor="middle" fill="#2a2a2a"><tspan font-style="italic">BRCA2</tspan> K3326*/E3359fs, MSI</text>
<text transform="translate(264.90,250.18) scale(0.94,1)" font-size="8.6" text-anchor="middle" font-weight="normal" fill="#000" >Start</text>
<path d="M263.80,252.30 h2.8 v8.00 h1.5 l-2.9,3.2 l-2.9,-3.2 h1.5 z" fill="#111"/>
<line x1="252.80" y1="277.80" x2="252.80" y2="276.00" stroke="#7b8dc0" stroke-width="0.8" />
<line x1="251.00" y1="276.00" x2="254.60" y2="276.00" stroke="#7b8dc0" stroke-width="0.8" />
<line x1="265.40" y1="270.80" x2="265.40" y2="266.50" stroke="#7b8dc0" stroke-width="0.8" />
<line x1="263.60" y1="266.50" x2="267.20" y2="266.50" stroke="#7b8dc0" stroke-width="0.8" />
<line x1="276.70" y1="265.00" x2="276.70" y2="259.60" stroke="#7b8dc0" stroke-width="0.8" />
<line x1="274.90" y1="259.60" x2="278.50" y2="259.60" stroke="#7b8dc0" stroke-width="0.8" />
<line x1="287.60" y1="257.00" x2="287.60" y2="248.90" stroke="#7b8dc0" stroke-width="0.8" />
<line x1="285.80" y1="248.90" x2="289.40" y2="248.90" stroke="#7b8dc0" stroke-width="0.8" />
<line x1="298.90" y1="246.20" x2="298.90" y2="236.80" stroke="#7b8dc0" stroke-width="0.8" />
<line x1="297.10" y1="236.80" x2="300.70" y2="236.80" stroke="#7b8dc0" stroke-width="0.8" />
<line x1="310.00" y1="232.70" x2="310.00" y2="221.00" stroke="#7b8dc0" stroke-width="0.8" />
<line x1="308.20" y1="221.00" x2="311.80" y2="221.00" stroke="#7b8dc0" stroke-width="0.8" />
<line x1="321.40" y1="207.80" x2="321.40" y2="192.20" stroke="#7b8dc0" stroke-width="0.8" />
<line x1="319.60" y1="192.20" x2="323.20" y2="192.20" stroke="#7b8dc0" stroke-width="0.8" />
<line x1="265.40" y1="270.80" x2="265.40" y2="266.50" stroke="#dc9a78" stroke-width="0.8" />
<line x1="263.60" y1="266.50" x2="267.20" y2="266.50" stroke="#dc9a78" stroke-width="0.8" />
<line x1="287.60" y1="260.50" x2="287.60" y2="250.80" stroke="#dc9a78" stroke-width="0.8" />
<line x1="285.80" y1="250.80" x2="289.40" y2="250.80" stroke="#dc9a78" stroke-width="0.8" />
<line x1="298.90" y1="249.70" x2="298.90" y2="236.80" stroke="#dc9a78" stroke-width="0.8" />
<line x1="297.10" y1="236.80" x2="300.70" y2="236.80" stroke="#dc9a78" stroke-width="0.8" />
<line x1="310.00" y1="238.90" x2="310.00" y2="221.00" stroke="#dc9a78" stroke-width="0.8" />
<line x1="308.20" y1="221.00" x2="311.80" y2="221.00" stroke="#dc9a78" stroke-width="0.8" />
<line x1="321.40" y1="223.80" x2="321.40" y2="205.70" stroke="#dc9a78" stroke-width="0.8" />
<line x1="319.60" y1="205.70" x2="323.20" y2="205.70" stroke="#dc9a78" stroke-width="0.8" />
<path d="M212.30,283.20 C217.68,282.58 237.85,280.40 244.60,279.50 C251.35,278.60 249.33,279.25 252.80,277.80 C256.27,276.35 261.42,272.93 265.40,270.80 C269.38,268.67 273.00,267.30 276.70,265.00 C280.40,262.70 283.90,260.13 287.60,257.00 C291.30,253.87 295.17,250.25 298.90,246.20 C302.63,242.15 306.25,239.10 310.00,232.70 C313.75,226.30 319.50,211.95 321.40,207.80" fill="none" stroke="#3f5ca5" stroke-width="0.95"/>
<circle cx="212.30" cy="283.20" r="2.05" fill="#3f5ca5"/>
<circle cx="244.60" cy="279.50" r="2.05" fill="#3f5ca5"/>
<circle cx="252.80" cy="277.80" r="2.05" fill="#3f5ca5"/>
<circle cx="265.40" cy="270.80" r="2.05" fill="#3f5ca5"/>
<circle cx="276.70" cy="265.00" r="2.05" fill="#3f5ca5"/>
<circle cx="287.60" cy="257.00" r="2.05" fill="#3f5ca5"/>
<circle cx="298.90" cy="246.20" r="2.05" fill="#3f5ca5"/>
<circle cx="310.00" cy="232.70" r="2.05" fill="#3f5ca5"/>
<circle cx="321.40" cy="207.80" r="2.05" fill="#3f5ca5"/>
<path d="M212.30,283.20 C217.68,282.58 237.85,280.40 244.60,279.50 C251.35,278.60 249.33,279.25 252.80,277.80 C256.27,276.35 261.42,272.30 265.40,270.80 C269.38,269.30 273.00,270.52 276.70,268.80 C280.40,267.08 283.90,263.68 287.60,260.50 C291.30,257.32 295.17,253.30 298.90,249.70 C302.63,246.10 306.25,243.22 310.00,238.90 C313.75,234.58 319.50,226.32 321.40,223.80" fill="none" stroke="#e9742e" stroke-width="0.95" opacity="0.92"/>
<circle cx="212.30" cy="283.20" r="2.05" fill="#e9742e" opacity="0.92"/>
<circle cx="244.60" cy="279.50" r="2.05" fill="#e9742e" opacity="0.92"/>
<circle cx="252.80" cy="277.80" r="2.05" fill="#e9742e" opacity="0.92"/>
<circle cx="265.40" cy="270.80" r="2.05" fill="#e9742e" opacity="0.92"/>
<circle cx="276.70" cy="268.80" r="2.05" fill="#e9742e" opacity="0.92"/>
<circle cx="287.60" cy="260.50" r="2.05" fill="#e9742e" opacity="0.92"/>
<circle cx="298.90" cy="249.70" r="2.05" fill="#e9742e" opacity="0.92"/>
<circle cx="310.00" cy="238.90" r="2.05" fill="#e9742e" opacity="0.92"/>
<circle cx="321.40" cy="223.80" r="2.05" fill="#e9742e" opacity="0.92"/>
<path d="M212.30,283.20 C217.68,282.58 237.85,280.40 244.60,279.50 C251.35,278.60 249.33,279.25 252.80,277.80 C256.27,276.35 261.42,272.30 265.40,270.80" fill="none" stroke="#a26d58" stroke-width="0.95"/>
<circle cx="212.30" cy="283.20" r="2.05" fill="#c9774a"/>
<circle cx="244.60" cy="279.50" r="2.05" fill="#c9774a"/>
<circle cx="252.80" cy="277.80" r="2.05" fill="#c9774a"/>
<circle cx="265.40" cy="270.80" r="2.05" fill="#c9774a"/>
<line x1="43.60" y1="343.60" x2="43.60" y2="434.30" stroke="#c8c8c8" stroke-width="0.9" />
<line x1="43.60" y1="434.30" x2="147.00" y2="434.30" stroke="#c8c8c8" stroke-width="0.9" />
<text transform="translate(38.90,437.34) scale(0.91,1)" font-size="8.5" text-anchor="end" font-weight="normal" fill="#5e5e5e" >0</text>
<text transform="translate(38.90,415.04) scale(0.91,1)" font-size="8.5" text-anchor="end" font-weight="normal" fill="#5e5e5e" >500</text>
<text transform="translate(38.90,392.74) scale(0.91,1)" font-size="8.5" text-anchor="end" font-weight="normal" fill="#5e5e5e" >1,000</text>
<text transform="translate(38.90,370.44) scale(0.91,1)" font-size="8.5" text-anchor="end" font-weight="normal" fill="#5e5e5e" >1,500</text>
<text transform="translate(38.90,348.14) scale(0.91,1)" font-size="8.5" text-anchor="end" font-weight="normal" fill="#5e5e5e" >2,000</text>
<text transform="translate(43.60,447.44) scale(0.91,1)" font-size="8.5" text-anchor="middle" font-weight="normal" fill="#5e5e5e" >0</text>
<text transform="translate(76.45,447.44) scale(0.91,1)" font-size="8.5" text-anchor="middle" font-weight="normal" fill="#5e5e5e" >15</text>
<text transform="translate(109.30,447.44) scale(0.91,1)" font-size="8.5" text-anchor="middle" font-weight="normal" fill="#5e5e5e" >30</text>
<text transform="translate(142.15,447.44) scale(0.91,1)" font-size="8.5" text-anchor="middle" font-weight="normal" fill="#5e5e5e" >45</text>
<line x1="43.60" y1="418.70" x2="144.00" y2="418.70" stroke="#8f99ad" stroke-width="0.8" stroke-dasharray="1.3,0.7"/>
<line x1="43.60" y1="428.90" x2="144.00" y2="428.90" stroke="#8f99ad" stroke-width="0.8" stroke-dasharray="1.3,0.7"/>
<text x="146.30" y="413.11" font-size="7.3" text-anchor="start" font-weight="bold" fill="#cf3340" >PD</text>
<text x="146.30" y="425.91" font-size="7.3" text-anchor="start" font-weight="bold" fill="#7a7a7a" >SD</text>
<text x="146.30" y="435.11" font-size="7.3" text-anchor="start" font-weight="bold" fill="#7a7a7a" >PR</text>
<text transform="translate(101.40,330.84) scale(0.95,1)" font-size="9.6" text-anchor="middle" font-weight="bold" fill="#111" >GTR0503</text>
<text x="97.50" y="344.17" font-size="8.3" text-anchor="middle" fill="#2a2a2a"><tspan font-style="italic">BRCA2</tspan> K3326*/+, MSS</text>
<text transform="translate(97.60,399.58) scale(0.94,1)" font-size="8.6" text-anchor="middle" font-weight="normal" fill="#000" >Start</text>
<path d="M96.50,401.00 h2.8 v8.70 h1.5 l-2.9,3.2 l-2.9,-3.2 h1.5 z" fill="#111"/>
<line x1="84.80" y1="429.60" x2="84.80" y2="427.10" stroke="#7b8dc0" stroke-width="0.8" />
<line x1="83.00" y1="427.10" x2="86.60" y2="427.10" stroke="#7b8dc0" stroke-width="0.8" />
<line x1="100.00" y1="423.70" x2="100.00" y2="419.50" stroke="#7b8dc0" stroke-width="0.8" />
<line x1="98.20" y1="419.50" x2="101.80" y2="419.50" stroke="#7b8dc0" stroke-width="0.8" />
<line x1="115.40" y1="417.00" x2="115.40" y2="409.80" stroke="#7b8dc0" stroke-width="0.8" />
<line x1="113.60" y1="409.80" x2="117.20" y2="409.80" stroke="#7b8dc0" stroke-width="0.8" />
<line x1="130.50" y1="409.80" x2="130.50" y2="400.00" stroke="#7b8dc0" stroke-width="0.8" />
<line x1="128.70" y1="400.00" x2="132.30" y2="400.00" stroke="#7b8dc0" stroke-width="0.8" />
<line x1="145.90" y1="393.40" x2="145.90" y2="375.10" stroke="#7b8dc0" stroke-width="0.8" />
<line x1="144.10" y1="375.10" x2="147.70" y2="375.10" stroke="#7b8dc0" stroke-width="0.8" />
<line x1="84.80" y1="429.60" x2="84.80" y2="427.10" stroke="#dc9a78" stroke-width="0.8" />
<line x1="83.00" y1="427.10" x2="86.60" y2="427.10" stroke="#dc9a78" stroke-width="0.8" />
<line x1="100.00" y1="423.70" x2="100.00" y2="419.50" stroke="#dc9a78" stroke-width="0.8" />
<line x1="98.20" y1="419.50" x2="101.80" y2="419.50" stroke="#dc9a78" stroke-width="0.8" />
<line x1="115.40" y1="415.40" x2="115.40" y2="405.60" stroke="#dc9a78" stroke-width="0.8" />
<line x1="113.60" y1="405.60" x2="117.20" y2="405.60" stroke="#dc9a78" stroke-width="0.8" />
<line x1="130.50" y1="407.30" x2="130.50" y2="394.40" stroke="#dc9a78" stroke-width="0.8" />
<line x1="128.70" y1="394.40" x2="132.30" y2="394.40" stroke="#dc9a78" stroke-width="0.8" />
<line x1="145.90" y1="389.50" x2="145.90" y2="357.80" stroke="#dc9a78" stroke-width="0.8" />
<line x1="144.10" y1="357.80" x2="147.70" y2="357.80" stroke="#dc9a78" stroke-width="0.8" />
<path d="M43.60,434.30 C50.47,433.52 75.40,431.37 84.80,429.60 C94.20,427.83 94.90,425.80 100.00,423.70 C105.10,421.60 110.32,419.32 115.40,417.00 C120.48,414.68 125.42,413.73 130.50,409.80 C135.58,405.87 143.33,396.13 145.90,393.40" fill="none" stroke="#3f5ca5" stroke-width="0.95"/>
<circle cx="43.60" cy="434.30" r="2.05" fill="#3f5ca5"/>
<circle cx="84.80" cy="429.60" r="2.05" fill="#3f5ca5"/>
<circle cx="100.00" cy="423.70" r="2.05" fill="#3f5ca5"/>
<circle cx="115.40" cy="417.00" r="2.05" fill="#3f5ca5"/>
<circle cx="130.50" cy="409.80" r="2.05" fill="#3f5ca5"/>
<circle cx="145.90" cy="393.40" r="2.05" fill="#3f5ca5"/>
<path d="M43.60,434.30 C50.47,433.52 75.40,431.37 84.80,429.60 C94.20,427.83 94.90,426.07 100.00,423.70 C105.10,421.33 110.32,418.13 115.40,415.40 C120.48,412.67 125.42,411.62 130.50,407.30 C135.58,402.98 143.33,392.47 145.90,389.50" fill="none" stroke="#e9742e" stroke-width="0.95" opacity="0.92"/>
<circle cx="43.60" cy="434.30" r="2.05" fill="#e9742e" opacity="0.92"/>
<circle cx="84.80" cy="429.60" r="2.05" fill="#e9742e" opacity="0.92"/>
<circle cx="100.00" cy="423.70" r="2.05" fill="#e9742e" opacity="0.92"/>
<circle cx="115.40" cy="415.40" r="2.05" fill="#e9742e" opacity="0.92"/>
<circle cx="130.50" cy="407.30" r="2.05" fill="#e9742e" opacity="0.92"/>
<circle cx="145.90" cy="389.50" r="2.05" fill="#e9742e" opacity="0.92"/>
<path d="M43.60,434.30 C50.47,433.52 75.40,431.37 84.80,429.60 C94.20,427.83 94.90,426.07 100.00,423.70" fill="none" stroke="#a26d58" stroke-width="0.95"/>
<circle cx="43.60" cy="434.30" r="2.05" fill="#c9774a"/>
<circle cx="84.80" cy="429.60" r="2.05" fill="#c9774a"/>
<circle cx="100.00" cy="423.70" r="2.05" fill="#c9774a"/>
<line x1="213.00" y1="340.30" x2="213.00" y2="434.60" stroke="#c8c8c8" stroke-width="0.9" />
<line x1="213.00" y1="434.60" x2="337.00" y2="434.60" stroke="#c8c8c8" stroke-width="0.9" />
<text transform="translate(208.10,437.64) scale(0.91,1)" font-size="8.5" text-anchor="end" font-weight="normal" fill="#5e5e5e" >0</text>
<text transform="translate(208.10,414.44) scale(0.91,1)" font-size="8.5" text-anchor="end" font-weight="normal" fill="#5e5e5e" >500</text>
<text transform="translate(208.10,391.24) scale(0.91,1)" font-size="8.5" text-anchor="end" font-weight="normal" fill="#5e5e5e" >1,000</text>
<text transform="translate(208.10,368.04) scale(0.91,1)" font-size="8.5" text-anchor="end" font-weight="normal" fill="#5e5e5e" >1,500</text>
<text transform="translate(208.10,344.84) scale(0.91,1)" font-size="8.5" text-anchor="end" font-weight="normal" fill="#5e5e5e" >2,000</text>
<text transform="translate(213.00,447.54) scale(0.91,1)" font-size="8.5" text-anchor="middle" font-weight="normal" fill="#5e5e5e" >0</text>
<text transform="translate(244.20,447.54) scale(0.91,1)" font-size="8.5" text-anchor="middle" font-weight="normal" fill="#5e5e5e" >20</text>
<text transform="translate(275.40,447.54) scale(0.91,1)" font-size="8.5" text-anchor="middle" font-weight="normal" fill="#5e5e5e" >40</text>
<text transform="translate(306.60,447.54) scale(0.91,1)" font-size="8.5" text-anchor="middle" font-weight="normal" fill="#5e5e5e" >60</text>
<text transform="translate(337.80,447.54) scale(0.91,1)" font-size="8.5" text-anchor="middle" font-weight="normal" fill="#5e5e5e" >80</text>
<line x1="213.00" y1="420.50" x2="312.70" y2="420.50" stroke="#8f99ad" stroke-width="0.8" stroke-dasharray="1.3,0.7"/>
<line x1="213.00" y1="430.60" x2="312.70" y2="430.60" stroke="#8f99ad" stroke-width="0.8" stroke-dasharray="1.3,0.7"/>
<text x="315.90" y="413.61" font-size="7.3" text-anchor="start" font-weight="bold" fill="#cf3340" >PD</text>
<text x="315.90" y="425.81" font-size="7.3" text-anchor="start" font-weight="bold" fill="#7a7a7a" >SD</text>
<text x="315.90" y="435.01" font-size="7.3" text-anchor="start" font-weight="bold" fill="#7a7a7a" >PR</text>
<text transform="translate(263.80,330.24) scale(0.95,1)" font-size="9.6" text-anchor="middle" font-weight="bold" fill="#111" >GTR0459</text>
<text x="264.70" y="344.77" font-size="8.3" text-anchor="middle" fill="#2a2a2a"><tspan font-style="italic">BRCA2</tspan> K3326*/+, MSS</text>
<text transform="translate(270.80,397.68) scale(0.94,1)" font-size="8.6" text-anchor="middle" font-weight="normal" fill="#000" >Start</text>
<path d="M269.70,399.50 h2.8 v8.30 h1.5 l-2.9,3.2 l-2.9,-3.2 h1.5 z" fill="#111"/>
<line x1="245.70" y1="433.20" x2="245.70" y2="431.50" stroke="#7b8dc0" stroke-width="0.8" />
<line x1="243.90" y1="431.50" x2="247.50" y2="431.50" stroke="#7b8dc0" stroke-width="0.8" />
<line x1="253.40" y1="432.80" x2="253.40" y2="430.50" stroke="#7b8dc0" stroke-width="0.8" />
<line x1="251.60" y1="430.50" x2="255.20" y2="430.50" stroke="#7b8dc0" stroke-width="0.8" />
<line x1="264.90" y1="428.00" x2="264.90" y2="426.00" stroke="#7b8dc0" stroke-width="0.8" />
<line x1="263.10" y1="426.00" x2="266.70" y2="426.00" stroke="#7b8dc0" stroke-width="0.8" />
<line x1="273.80" y1="424.30" x2="273.80" y2="420.90" stroke="#7b8dc0" stroke-width="0.8" />
<line x1="272.00" y1="420.90" x2="275.60" y2="420.90" stroke="#7b8dc0" stroke-width="0.8" />
<line x1="286.30" y1="411.00" x2="286.30" y2="401.70" stroke="#7b8dc0" stroke-width="0.8" />
<line x1="284.50" y1="401.70" x2="288.10" y2="401.70" stroke="#7b8dc0" stroke-width="0.8" />
<line x1="298.80" y1="400.70" x2="298.80" y2="389.50" stroke="#7b8dc0" stroke-width="0.8" />
<line x1="297.00" y1="389.50" x2="300.60" y2="389.50" stroke="#7b8dc0" stroke-width="0.8" />
<line x1="309.50" y1="385.40" x2="309.50" y2="373.20" stroke="#7b8dc0" stroke-width="0.8" />
<line x1="307.70" y1="373.20" x2="311.30" y2="373.20" stroke="#7b8dc0" stroke-width="0.8" />
<line x1="273.80" y1="424.50" x2="273.80" y2="420.90" stroke="#dc9a78" stroke-width="0.8" />
<line x1="272.00" y1="420.90" x2="275.60" y2="420.90" stroke="#dc9a78" stroke-width="0.8" />
<line x1="286.30" y1="411.00" x2="286.30" y2="401.70" stroke="#dc9a78" stroke-width="0.8" />
<line x1="284.50" y1="401.70" x2="288.10" y2="401.70" stroke="#dc9a78" stroke-width="0.8" />
<line x1="298.80" y1="395.10" x2="298.80" y2="381.70" stroke="#dc9a78" stroke-width="0.8" />
<line x1="297.00" y1="381.70" x2="300.60" y2="381.70" stroke="#dc9a78" stroke-width="0.8" />
<line x1="309.50" y1="381.20" x2="309.50" y2="362.20" stroke="#dc9a78" stroke-width="0.8" />
<line x1="307.70" y1="362.20" x2="311.30" y2="362.20" stroke="#dc9a78" stroke-width="0.8" />
<path d="M213.00,434.60 C218.45,434.37 238.97,433.50 245.70,433.20 C252.43,432.90 250.20,433.67 253.40,432.80 C256.60,431.93 261.50,429.42 264.90,428.00 C268.30,426.58 270.23,427.13 273.80,424.30 C277.37,421.47 282.13,414.93 286.30,411.00 C290.47,407.07 294.93,404.97 298.80,400.70 C302.67,396.43 307.72,387.95 309.50,385.40" fill="none" stroke="#3f5ca5" stroke-width="0.95"/>
<circle cx="213.00" cy="434.60" r="2.05" fill="#3f5ca5"/>
<circle cx="245.70" cy="433.20" r="2.05" fill="#3f5ca5"/>
<circle cx="253.40" cy="432.80" r="2.05" fill="#3f5ca5"/>
<circle cx="264.90" cy="428.00" r="2.05" fill="#3f5ca5"/>
<circle cx="273.80" cy="424.30" r="2.05" fill="#3f5ca5"/>
<circle cx="286.30" cy="411.00" r="2.05" fill="#3f5ca5"/>
<circle cx="298.80" cy="400.70" r="2.05" fill="#3f5ca5"/>
<circle cx="309.50" cy="385.40" r="2.05" fill="#3f5ca5"/>
<path d="M213.00,434.60 C218.45,434.40 238.97,433.65 245.70,433.40 C252.43,433.15 250.20,434.00 253.40,433.10 C256.60,432.20 261.50,429.43 264.90,428.00 C268.30,426.57 270.23,427.33 273.80,424.50 C277.37,421.67 282.13,415.90 286.30,411.00 C290.47,406.10 294.93,400.07 298.80,395.10 C302.67,390.13 307.72,383.52 309.50,381.20" fill="none" stroke="#e9742e" stroke-width="0.95" opacity="0.92"/>
<circle cx="213.00" cy="434.60" r="2.05" fill="#e9742e" opacity="0.92"/>
<circle cx="245.70" cy="433.40" r="2.05" fill="#e9742e" opacity="0.92"/>
<circle cx="253.40" cy="433.10" r="2.05" fill="#e9742e" opacity="0.92"/>
<circle cx="264.90" cy="428.00" r="2.05" fill="#e9742e" opacity="0.92"/>
<circle cx="273.80" cy="424.50" r="2.05" fill="#e9742e" opacity="0.92"/>
<circle cx="286.30" cy="411.00" r="2.05" fill="#e9742e" opacity="0.92"/>
<circle cx="298.80" cy="395.10" r="2.05" fill="#e9742e" opacity="0.92"/>
<circle cx="309.50" cy="381.20" r="2.05" fill="#e9742e" opacity="0.92"/>
<path d="M213.00,434.60 C218.45,434.40 238.97,433.65 245.70,433.40 C252.43,433.15 250.20,434.00 253.40,433.10 C256.60,432.20 261.50,429.43 264.90,428.00 C268.30,426.57 270.23,427.33 273.80,424.50 C277.37,421.67 282.13,415.90 286.30,411.00" fill="none" stroke="#a26d58" stroke-width="0.95"/>
<circle cx="213.00" cy="434.60" r="2.05" fill="#c9774a"/>
<circle cx="245.70" cy="433.40" r="2.05" fill="#c9774a"/>
<circle cx="253.40" cy="433.10" r="2.05" fill="#c9774a"/>
<circle cx="264.90" cy="428.00" r="2.05" fill="#c9774a"/>
<circle cx="273.80" cy="424.50" r="2.05" fill="#c9774a"/>
<circle cx="286.30" cy="411.00" r="2.05" fill="#c9774a"/>
<text transform="translate(6.05,10.27) scale(0.93,1)" font-size="12.9" text-anchor="middle" font-weight="bold" fill="#000" >A</text>
<text transform="translate(5.35,167.97) scale(0.93,1)" font-size="12.9" text-anchor="middle" font-weight="bold" fill="#000" >B</text>
<text transform="translate(5.25,332.55) scale(0.93,1)" font-size="13.4" text-anchor="middle" font-weight="bold" fill="#000" >C</text>
<text transform="translate(7.9,73.90) rotate(-90)" x="0" y="0" font-size="9.25" text-anchor="middle" fill="#5e5e5e">Tumor volume (mm<tspan font-size="5.5" dy="-3.2">3</tspan><tspan dy="3.2">)</tspan></text>
<text transform="translate(7.9,237.90) rotate(-90)" x="0" y="0" font-size="9.25" text-anchor="middle" fill="#5e5e5e">Tumor volume (mm<tspan font-size="5.5" dy="-3.2">3</tspan><tspan dy="3.2">)</tspan></text>
<text transform="translate(7.9,393.30) rotate(-90)" x="0" y="0" font-size="9.25" text-anchor="middle" fill="#5e5e5e">Tumor volume (mm<tspan font-size="5.5" dy="-3.2">3</tspan><tspan dy="3.2">)</tspan></text>
<text x="95.00" y="458.72" font-size="9" text-anchor="middle" font-weight="normal" fill="#5e5e5e" >Days after implant</text>
<text x="275.60" y="460.42" font-size="9" text-anchor="middle" font-weight="normal" fill="#5e5e5e" >Days after implant</text>
<line x1="362.20" y1="389.70" x2="380.00" y2="389.70" stroke="#7d90c6" stroke-width="1.2" />
<circle cx="371.2" cy="389.7" r="1.9" fill="#3f5ca3"/>
<text x="381.90" y="392.89" font-size="9.2" text-anchor="start" font-weight="normal" fill="#333" >Vehicle</text>
<line x1="362.20" y1="407.60" x2="380.00" y2="407.60" stroke="#eda27a" stroke-width="1.2" />
<circle cx="371.2" cy="407.6" r="1.9" fill="#dc7030"/>
<text x="381.90" y="410.69" font-size="9.2" text-anchor="start" font-weight="normal" fill="#333" >Olaparib</text>
</svg>
</body></html>
